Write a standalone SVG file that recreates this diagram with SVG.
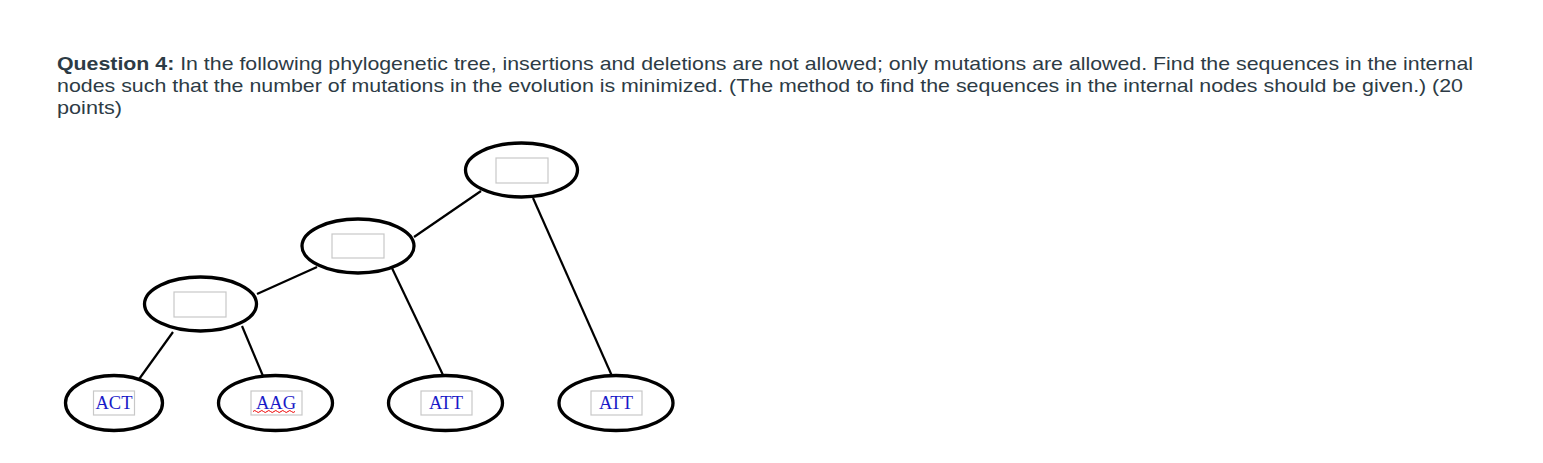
<svg xmlns="http://www.w3.org/2000/svg" width="1543" height="463" viewBox="0 0 1543 463">
<style>
.q{font-family:"Liberation Sans",Arial,sans-serif;font-size:19px;fill:#2d3b45}
.n{fill:#fff;stroke:#000;stroke-width:3.3}
.b{fill:#fff;stroke:#c8c8c8;stroke-width:1.2}
.e{stroke:#000;stroke-width:2.2;fill:none}
.t{font-family:"Liberation Serif","Times New Roman",serif;font-size:18.5px;fill:#1a1ac8;text-anchor:middle}
</style>
<rect width="1543" height="463" fill="#fff"/>
<g id="question">
<text class="q" x="57" y="69.5" textLength="1416" lengthAdjust="spacingAndGlyphs"><tspan font-weight="bold">Question 4:</tspan> In the following phylogenetic tree, insertions and deletions are not allowed; only mutations are allowed. Find the sequences in the internal</text>
<text class="q" x="57" y="91.5" textLength="1406" lengthAdjust="spacingAndGlyphs">nodes such that the number of mutations in the evolution is minimized. (The method to find the sequences in the internal nodes should be given.) (20</text>
<text class="q" x="57" y="113.5" textLength="65" lengthAdjust="spacingAndGlyphs">points)</text>
</g>
<g id="connectors">
<line class="e" x1="481" y1="191" x2="414" y2="237"/>
<line class="e" x1="533" y1="198" x2="612" y2="376"/>
<line class="e" x1="317" y1="267" x2="257" y2="294"/>
<line class="e" x1="391" y1="266" x2="443" y2="375"/>
<line class="e" x1="173" y1="332" x2="137" y2="382"/>
<line class="e" x1="242" y1="326" x2="263" y2="376"/>
</g>
<g id="root">
<ellipse class="n" cx="521.5" cy="170" rx="56" ry="27"/>
<rect class="b" x="496" y="158" width="52" height="25"/>
</g>
<g id="internal2">
<ellipse class="n" cx="358" cy="246" rx="56" ry="27"/>
<rect class="b" x="332" y="234" width="52" height="24"/>
</g>
<g id="internal1">
<ellipse class="n" cx="200.5" cy="304" rx="56" ry="27"/>
<rect class="b" x="174" y="292" width="52" height="25"/>
</g>
<g id="leaf-act">
<ellipse class="n" cx="114" cy="403" rx="48.5" ry="27.5"/>
<rect class="b" x="93.5" y="391" width="41" height="24"/>
<text class="t" x="114" y="408.5">ACT</text>
</g>
<g id="leaf-aag">
<ellipse class="n" cx="275.5" cy="403" rx="57" ry="27.5"/>
<rect class="b" x="251" y="391" width="51" height="24"/>
<text class="t" x="276" y="408.5">AAG</text>
<path d="M253 411.5 q1.75 -2 3.5 0 t3.5 0 t3.5 0 t3.5 0 t3.5 0 t3.5 0 t3.5 0 t3.5 0 t3.5 0 t3.5 0 t3.5 0 t3.5 0" fill="none" stroke="#e00" stroke-width="1"/>
</g>
<g id="leaf-att1">
<ellipse class="n" cx="445.5" cy="403" rx="57" ry="27.5"/>
<rect class="b" x="421" y="391" width="51" height="24"/>
<text class="t" x="446" y="408.5">ATT</text>
</g>
<g id="leaf-att2">
<ellipse class="n" cx="616" cy="403" rx="57" ry="27.5"/>
<rect class="b" x="591" y="391" width="51" height="24"/>
<text class="t" x="616" y="408.5">ATT</text>
</g>
</svg>
